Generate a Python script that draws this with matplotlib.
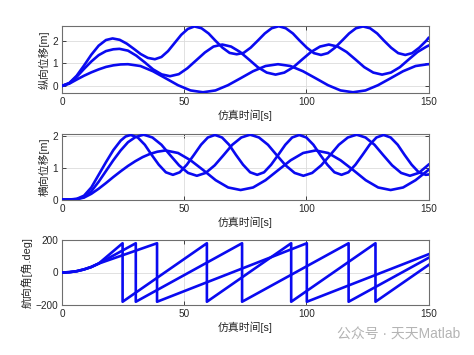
import matplotlib
matplotlib.use('Agg')
import matplotlib.pyplot as plt

plt.rcParams['font.family'] = ['Liberation Sans', 'Noto Sans CJK SC', 'DejaVu Sans']

# ---------------- data ----------------
# longitudinal displacement [m]
long_a_t = [0, 3, 6, 9, 12, 15, 18, 20.7, 23.6, 26.5, 29.4, 32.2, 35.1, 38.0, 40.7, 43.4, 46.1, 48.8, 51.5,
            54.2, 57.1, 60.0, 62.8, 65.7, 68.6, 71.5, 74.3, 77.2, 80.1, 83.0, 85.8,
            88.7, 91.6, 94.5, 97.3, 100.2, 103.1, 106.0, 108.8, 111.7, 114.6, 117.5, 120.3,
            123.2, 126.1, 129.0, 131.8, 134.7, 137.6, 140.5, 143.3, 146.2, 149.1, 150]
long_a = [0, 0.13, 0.45, 0.90, 1.38, 1.78, 2.03, 2.10, 2.04, 1.87, 1.64, 1.41, 1.24, 1.18, 1.28, 1.54, 1.90, 2.26, 2.52,
          2.63, 2.55, 2.32, 2.00, 1.69, 1.46, 1.40, 1.46, 1.69, 2.00, 2.32, 2.55,
          2.64, 2.55, 2.32, 2.00, 1.69, 1.45, 1.37, 1.45, 1.69, 2.00, 2.32, 2.55,
          2.63, 2.55, 2.32, 2.00, 1.69, 1.45, 1.37, 1.45, 1.69, 2.00, 2.12]

long_b_t = [0, 3, 6, 9, 12, 15, 18, 21, 23.5, 27.0, 30.4, 33.9, 37.3, 40.8, 44.2, 47.8, 51.3, 54.9, 58.5, 62.0,
            65.6, 69.2, 72.9, 76.5, 80.1, 83.8, 87.4, 91.0, 94.7, 98.3, 101.9, 105.6,
            109.2, 112.8, 116.5, 120.1, 123.7, 127.4, 131.0, 134.6, 138.3, 141.9, 145.5, 149.2, 150]
long_b = [0, 0.12, 0.40, 0.75, 1.08, 1.36, 1.54, 1.62, 1.64, 1.56, 1.34, 1.04, 0.73, 0.51, 0.43, 0.52, 0.78, 1.13, 1.48, 1.74,
          1.83, 1.74, 1.50, 1.17, 0.83, 0.59, 0.50, 0.59, 0.83, 1.17, 1.50, 1.74,
          1.83, 1.74, 1.50, 1.17, 0.83, 0.59, 0.50, 0.59, 0.83, 1.17, 1.50, 1.74, 1.78]

long_c_t = [0, 3, 6, 9, 12, 15, 18, 21, 24,
            27.0, 32.1, 37.2, 42.4, 47.5, 52.6, 57.7, 62.8, 67.9, 73.1, 78.2, 83.3,
            88.4, 93.5, 98.6, 103.8, 108.9, 114.0, 119.1, 124.2, 129.3, 134.5, 139.6, 144.7, 149.8, 150]
long_c = [0, 0.10, 0.28, 0.45, 0.60, 0.73, 0.84, 0.91, 0.95,
          0.96, 0.88, 0.65, 0.34, 0.03, -0.20, -0.28, -0.20, 0.03, 0.34, 0.65, 0.88,
          0.96, 0.88, 0.65, 0.34, 0.03, -0.20, -0.28, -0.20, 0.03, 0.34, 0.65, 0.88, 0.96, 0.96]

# lateral displacement [m]
lat_a_t = [0, 3, 6, 9, 12, 15, 18, 21, 24, 26,
           28.1, 31.0, 33.9, 36.7, 39.6, 42.5, 45.4, 48.2, 51.1, 54.0, 56.9, 59.7,
           62.6, 65.5, 68.4, 71.2, 74.1, 77.0, 79.9, 82.7, 85.6, 88.5, 91.4, 94.2,
           97.1, 100.0, 102.9, 105.7, 108.6, 111.5, 114.4, 117.2, 120.1, 123.0, 125.9, 128.7,
           131.6, 134.5, 137.4, 140.2, 143.1, 146.0, 148.9, 150]
lat_a = [0, 0, 0.02, 0.12, 0.38, 0.78, 1.18, 1.56, 1.86, 1.99,
         2.04, 1.96, 1.73, 1.41, 1.10, 0.86, 0.78, 0.86, 1.10, 1.41, 1.73, 1.96,
         2.04, 1.96, 1.73, 1.41, 1.10, 0.86, 0.78, 0.86, 1.10, 1.41, 1.73, 1.96,
         2.04, 1.96, 1.73, 1.41, 1.10, 0.86, 0.78, 0.86, 1.10, 1.41, 1.73, 1.96,
         2.04, 1.96, 1.73, 1.41, 1.10, 0.86, 0.78, 0.79]

lat_b_t = [0, 3, 6, 9, 12, 15, 18, 21, 24, 27, 30,
           33.4, 37.0, 40.7, 44.3, 47.9, 51.6, 55.2, 58.8, 62.5, 66.1, 69.7, 73.4,
           77.0, 80.6, 84.3, 87.9, 91.5, 95.2, 98.8, 102.4, 106.1, 109.7, 113.3, 117.0,
           120.6, 124.2, 127.9, 131.5, 135.1, 138.8, 142.4, 146.0, 149.7, 150]
lat_b = [0, 0, 0.01, 0.08, 0.26, 0.56, 0.90, 1.24, 1.55, 1.81, 1.97,
         2.05, 1.96, 1.73, 1.40, 1.08, 0.84, 0.75, 0.84, 1.08, 1.40, 1.73, 1.96,
         2.05, 1.96, 1.73, 1.40, 1.08, 0.84, 0.75, 0.84, 1.08, 1.40, 1.73, 1.96,
         2.05, 1.96, 1.73, 1.40, 1.08, 0.84, 0.75, 0.84, 1.08, 1.10]

lat_c_t = [0, 3, 6, 9, 12, 15, 18, 21, 24, 27, 30, 33, 36, 39,
           42.4, 47.5, 52.6, 57.8, 62.9, 68.0, 73.1, 78.2, 83.3, 88.5, 93.6, 98.7,
           103.8, 108.9, 114.0, 119.2, 124.3, 129.4, 134.5, 139.6, 144.7, 149.9, 150]
lat_c = [0, 0, 0.01, 0.06, 0.18, 0.34, 0.52, 0.71, 0.89, 1.06, 1.21, 1.34, 1.44, 1.51,
         1.55, 1.47, 1.24, 0.93, 0.61, 0.38, 0.30, 0.38, 0.61, 0.93, 1.24, 1.47,
         1.55, 1.47, 1.24, 0.93, 0.61, 0.38, 0.30, 0.38, 0.61, 0.93, 0.94]

# heading angle [deg]
head_a_t = [0, 3, 6, 9, 12, 15, 24.8, 24.8, 59.3, 59.3, 93.8, 93.8, 128.3, 128.3, 150]
head_a = [0, 2, 8, 19, 34, 55, 180, -180, 180, -180, 180, -180, 180, -180, 46]
head_b_t = [0, 3, 6, 9, 12, 15, 30.2, 30.2, 73.7, 73.7, 117.3, 117.3, 150]
head_b = [0, 2, 8, 19, 34, 55, 180, -180, 180, -180, 180, -180, 90]
head_c_t = [0, 3, 6, 9, 12, 15, 38.9, 38.9, 100.2, 100.2, 150]
head_c = [0, 2, 8, 19, 34, 55, 180, -180, 180, -180, 112]

x_ticks = [0, 50, 100, 150]
xlabel_text = '仿真时间[s]'
ylabels = ['纵向位移[m]', '横向位移[m]', '航向角[角.deg]']

# ---------------- figure ----------------
W, H = 474, 355
fig = plt.figure(figsize=(W / 100, H / 100), dpi=100)

def px_axes(left, top, right, bottom):
    return fig.add_axes([left / W, 1 - bottom / H, (right - left) / W, (bottom - top) / H])

ax1 = px_axes(62, 26, 428.5, 92.7)
ax2 = px_axes(62, 134, 428.5, 199.5)
ax3 = px_axes(62, 240, 428.5, 305)

blue = '#0a0af0'
lw = 1.9
txt = '#262626'

series = [
    (ax1, [(long_a_t, long_a), (long_b_t, long_b), (long_c_t, long_c)], (-0.3, 2.65), [0, 1, 2]),
    (ax2, [(lat_a_t, lat_a), (lat_b_t, lat_b), (lat_c_t, lat_c)], (0, 2.07), [0, 1, 2]),
    (ax3, [(head_a_t, head_a), (head_b_t, head_b), (head_c_t, head_c)], (-200, 200), [-200, 0, 200]),
]

for (ax, lines, ylim, yt), ylab in zip(series, ylabels):
    for t, v in lines:
        ax.plot(t, v, color=blue, lw=lw, solid_joinstyle='round', zorder=3)
    ax.set_xlim(0, 150)
    ax.set_ylim(*ylim)
    ax.set_xticks(x_ticks)
    ax.set_yticks(yt)
    ax.grid(True, color='#dcdcdc', lw=0.6, zorder=0)
    ax.tick_params(direction='in', length=3, width=0.6, labelsize=7.2, colors=txt,
                   top=True, right=True, pad=3)
    for s in ax.spines.values():
        s.set_color('#6e6e6e')
        s.set_linewidth(0.8)
    ax.set_xlabel(xlabel_text, fontsize=7.8, color=txt, labelpad=2)
    ax.set_ylabel(ylab, fontsize=7.8, color=txt, labelpad=2)

fig.text(460 / W, 1 - 335 / H, '公众号 · 天天Matlab', ha='right', va='center',
         fontsize=10, color='#b4b4b4')

fig.savefig('out.png', dpi=100)
